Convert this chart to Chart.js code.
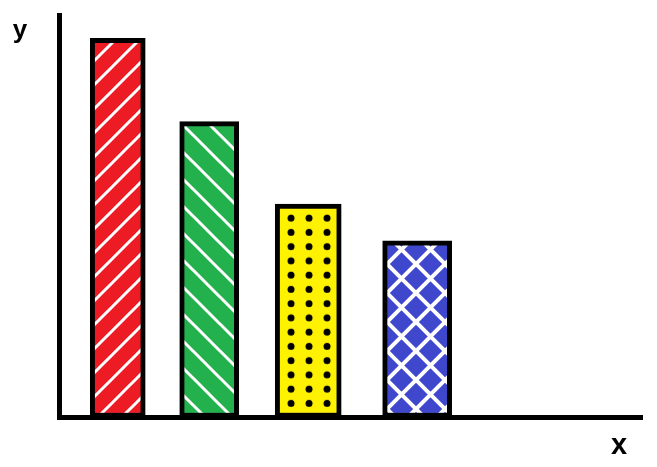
<!DOCTYPE html>
<html>
<head>
<meta charset="utf-8">
<script src="https://cdn.jsdelivr.net/npm/chart.js@4.4.1/dist/chart.umd.min.js"></script>
<style>
  html, body { margin: 0; padding: 0; background: #ffffff; }
  #chart { display: block; }
</style>
</head>
<body>
<canvas id="chart" width="657" height="467"></canvas>
<script>
// DATA
const categories = ['A', 'B', 'C', 'D'];          // four unlabeled bars
const xValues = [1.0, 2.57, 4.27, 6.14];          // bar centres on the x axis (0..10)
const values = [9.42, 7.35, 5.30, 4.39];          // bar heights on the y axis (0..10)
const axisNames = ['x', 'y'];

// Styles
const fillColors = ['#ed1c24', '#22b14c', '#fff200', '#3f48cc'];
const patternKinds = ['rising', 'falling', 'dots', 'cross'];
const barWidths = [55, 59, 66, 69];

// Build a canvas pattern: colour fill plus white stripes / black dots
function makePattern(kind, color) {
    const tile = document.createElement('canvas');
    const c = tile.getContext('2d');
    let p, shift;

    if (kind === 'dots') {
        tile.width = 18;
        tile.height = 57;
        c.fillStyle = color;
        c.fillRect(0, 0, tile.width, tile.height);
        c.fillStyle = '#000000';
        for (let k = 0; k < 4; k++) {
            c.beginPath();
            c.arc(9, 7.125 + k * 14.25, 3.5, 0, Math.PI * 2);
            c.fill();
        }
        shift = [282, 210.875];
    } else {
        p = kind === 'rising' ? 24 : kind === 'falling' ? 27 : 29;
        tile.width = p;
        tile.height = p;
        c.fillStyle = color;
        c.fillRect(0, 0, p, p);
        c.strokeStyle = '#ffffff';
        c.lineWidth = kind === 'cross' ? 4 : 3;
        c.beginPath();
        if (kind === 'rising' || kind === 'cross') {
            // lines x + y = const
            [0, p, 2 * p].forEach(k => {
                c.moveTo(k + p, -p);
                c.lineTo(k - 2 * p, 2 * p);
            });
        }
        if (kind === 'falling' || kind === 'cross') {
            // lines x - y = const
            [-p, 0, p].forEach(k => {
                c.moveTo(k - p, -p);
                c.lineTo(k + 2 * p, 2 * p);
            });
        }
        c.stroke();
        shift = kind === 'rising' ? [11, 0] : kind === 'falling' ? [4, 0] : [10, 3];
    }

    const ctx = document.getElementById('chart').getContext('2d');
    const pattern = ctx.createPattern(tile, 'repeat');
    pattern.setTransform(new DOMMatrix().translate(shift[0], shift[1]));
    return pattern;
}

// Axis letters drawn at the top of the y axis and the end of the x axis
const axisLetters = {
    id: 'axisLetters',
    afterDraw(chart) {
        const { ctx, chartArea } = chart;
        ctx.save();
        ctx.fillStyle = '#000000';
        ctx.textAlign = 'center';
        ctx.textBaseline = 'alphabetic';
        ctx.font = 'bold 26px "Liberation Sans", Arial, sans-serif';
        ctx.fillText(axisNames[1], chartArea.left - 39.5, chartArea.top + 23);
        ctx.font = 'bold 29px "Liberation Sans", Arial, sans-serif';
        ctx.fillText(axisNames[0], chartArea.right - 23, chartArea.bottom + 36.5);
        ctx.restore();
    }
};

const datasets = categories.map((name, i) => ({
    label: name,
    data: [{ x: xValues[i], y: values[i] }],
    backgroundColor: makePattern(patternKinds[i], fillColors[i]),
    borderColor: '#000000',
    borderWidth: 5,
    borderSkipped: false,
    barThickness: barWidths[i],
    grouped: false
}));

new Chart(document.getElementById('chart'), {
    type: 'bar',
    data: { datasets: datasets },
    options: {
        responsive: false,
        animation: false,
        devicePixelRatio: 1,
        layout: {
            padding: { left: 59.5, top: 15, right: 15, bottom: 49.5 }
        },
        plugins: {
            legend: { display: false },
            tooltip: { enabled: false }
        },
        events: [],
        scales: {
            x: {
                type: 'linear',
                min: 0,
                max: 10,
                offset: false,
                grid: { display: false, drawTicks: false },
                ticks: { display: false },
                border: { display: true, color: '#000000', width: 5, z: 1 }
            },
            y: {
                type: 'linear',
                min: 0,
                max: 10,
                grid: { display: false, drawTicks: false },
                ticks: { display: false },
                border: { display: true, color: '#000000', width: 5, z: 1 }
            }
        }
    },
    plugins: [axisLetters]
});
</script>
</body>
</html>
